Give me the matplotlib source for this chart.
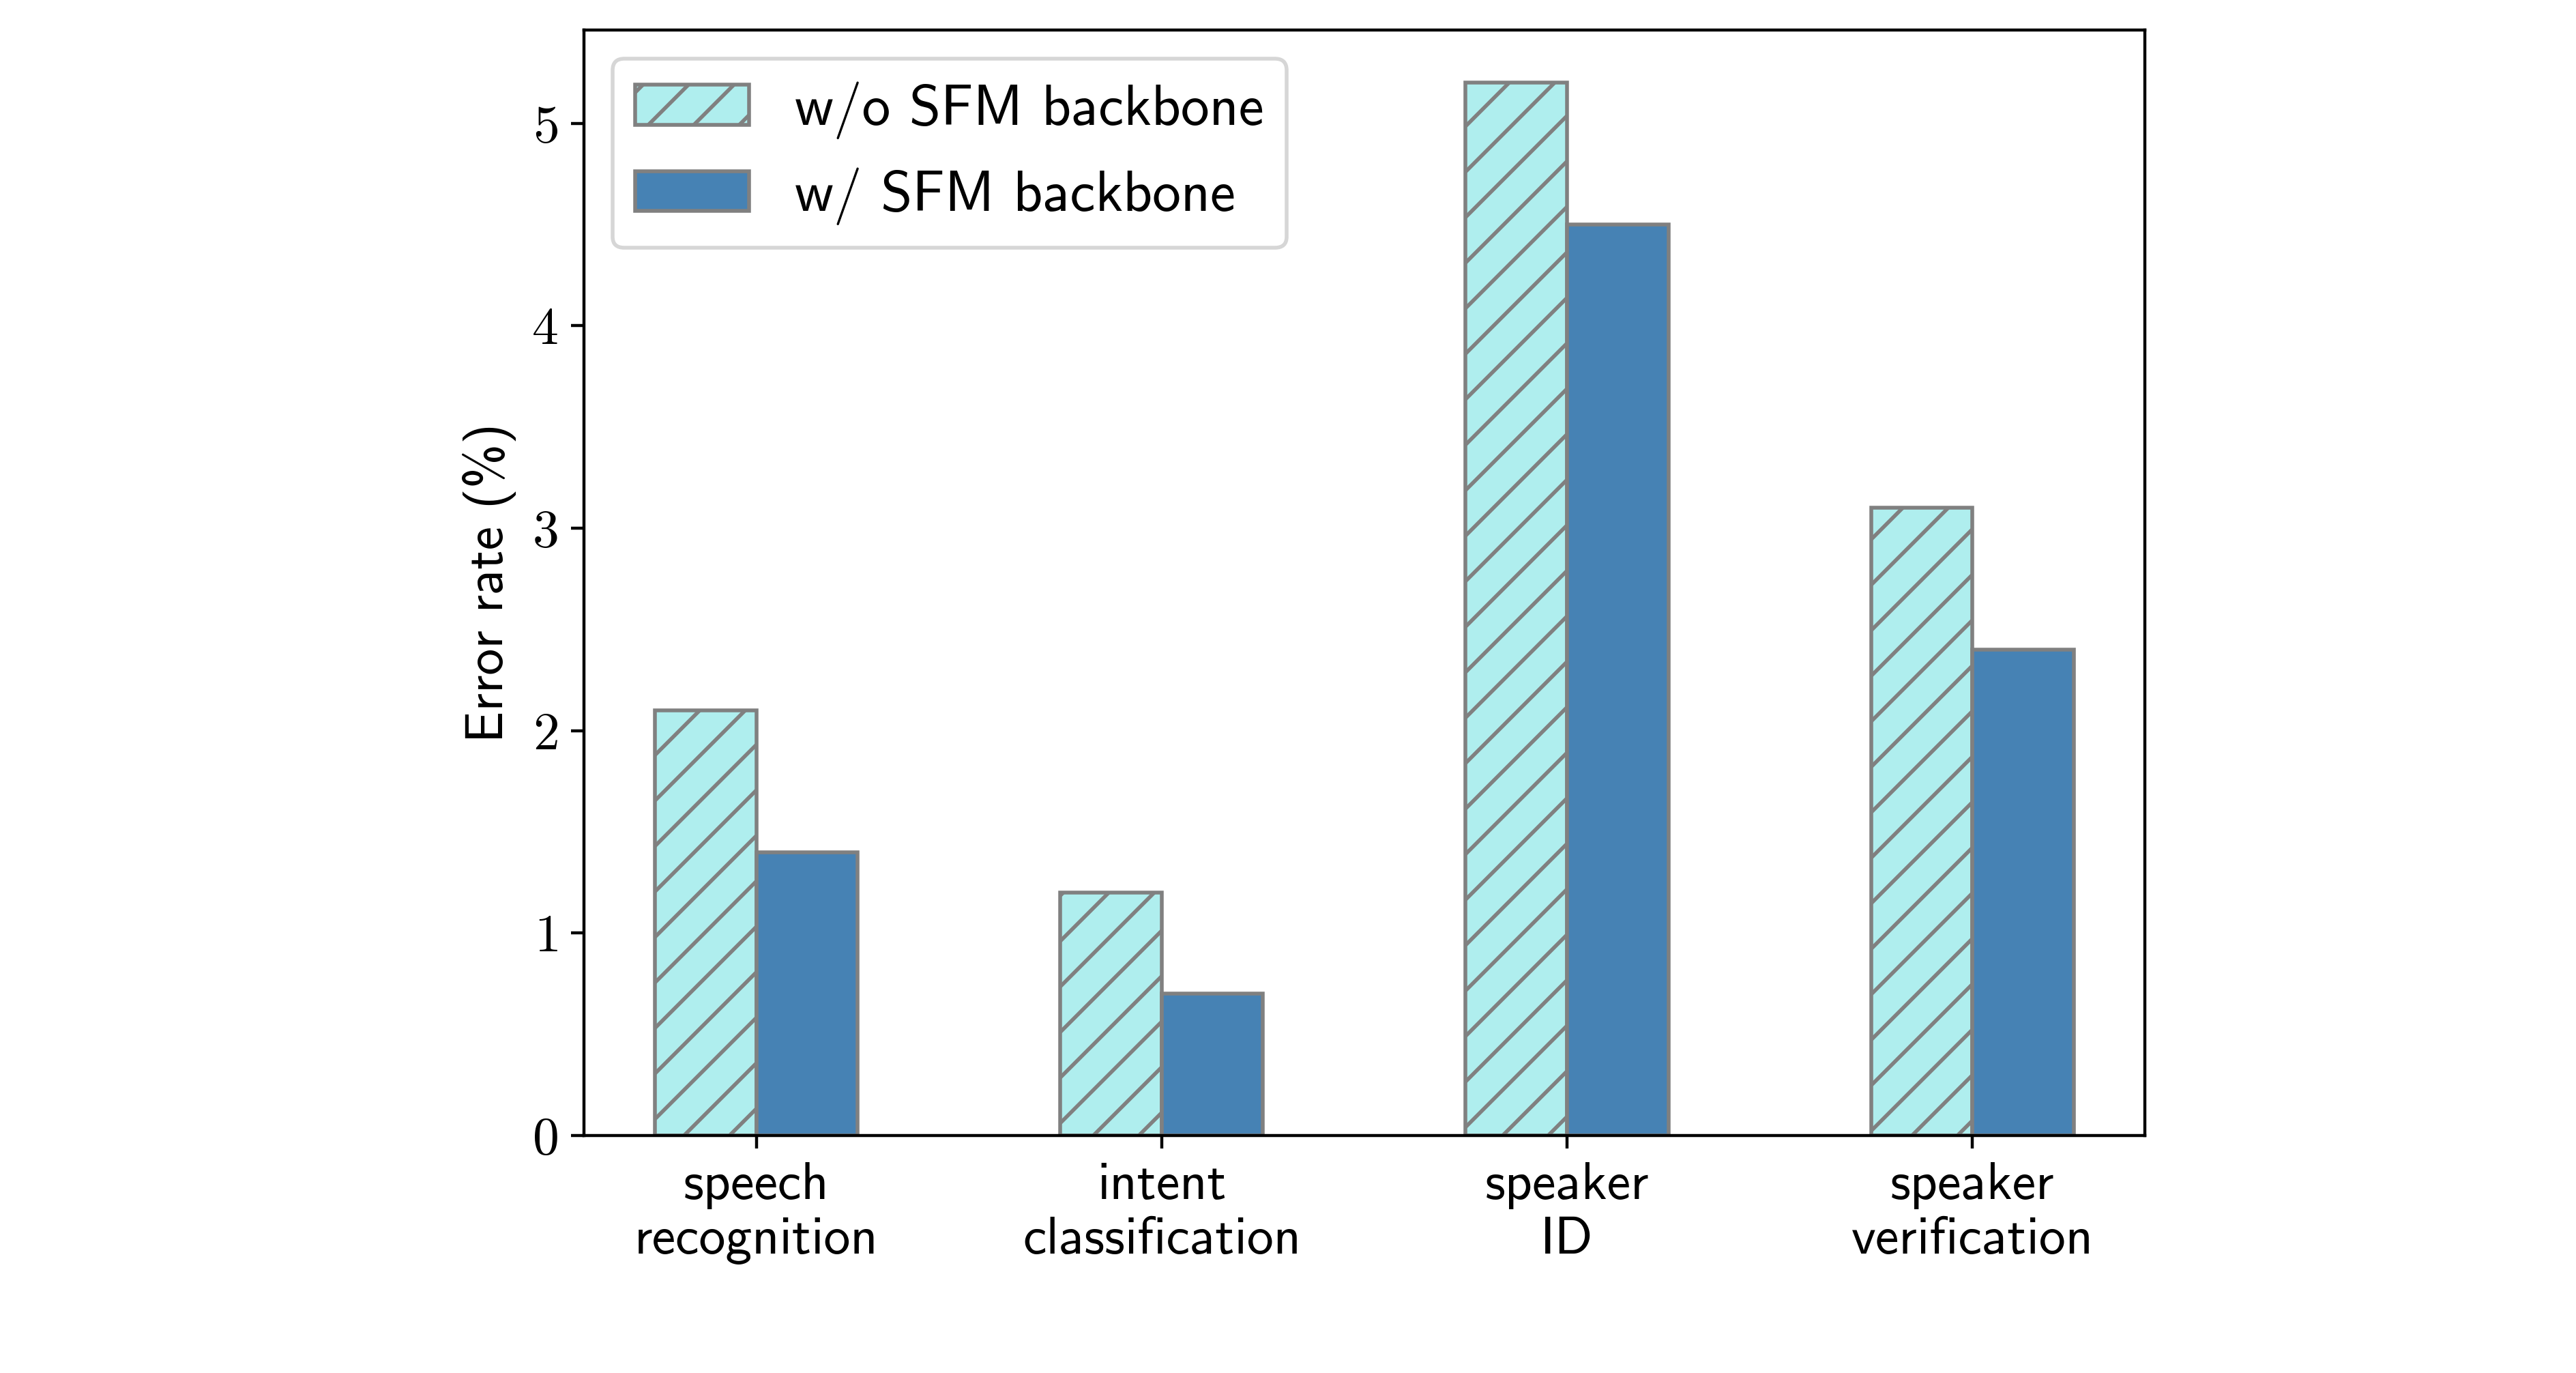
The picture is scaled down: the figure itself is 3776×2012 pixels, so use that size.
import numpy as np
import matplotlib
matplotlib.use("Agg")
import matplotlib.pyplot as plt
from matplotlib.ticker import FuncFormatter

tasks = ["speech\nrecognition", "intent\nclassification", "speaker\nID", "speaker\nverification"]
without_sfm = [2.1, 1.2, 5.2, 3.1]
with_sfm = [1.4, 0.7, 4.5, 2.4]
labels = ["w/o SFM backbone", "w/ SFM backbone"]

plt.rcParams['font.family'] = ['cmss10', 'DejaVu Sans']
plt.rcParams['mathtext.fontset'] = 'cm'
plt.rcParams['axes.unicode_minus'] = False
plt.rcParams['hatch.color'] = 'gray'

fig = plt.figure(figsize=(9.44, 5.03), dpi=400)
ax = fig.add_axes([0.2268, 0.173, 0.6057, 0.805])

x = np.arange(len(tasks))
w = 0.25
ax.bar(x - w / 2, without_sfm, w, color='paleturquoise', edgecolor='gray',
       hatch='//', label=labels[0])
ax.bar(x + w / 2, with_sfm, w, color='steelblue', edgecolor='gray',
       label=labels[1])

ax.set_xticks(x)
ax.set_xticklabels(tasks, fontsize=14)
ax.yaxis.set_major_formatter(FuncFormatter(lambda v, p: r'$%d$' % v))
ax.tick_params(axis='y', labelsize=14)
ax.set_ylabel('Error rate (%)', fontsize=14)
ax.legend(loc='upper left', fontsize=15)

fig.savefig("out.png", dpi=400)
